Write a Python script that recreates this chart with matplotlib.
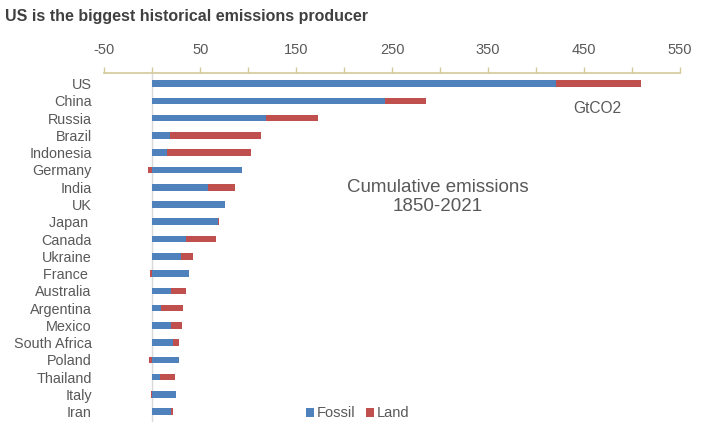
import numpy as np
import matplotlib.pyplot as plt

plt.rcParams['font.family'] = ['Liberation Sans', 'DejaVu Sans']

# Cumulative emissions 1850-2021, GtCO2
countries = ['US', 'China', 'Russia', 'Brazil', 'Indonesia', 'Germany', 'India', 'UK',
             'Japan ', 'Canada', 'Ukraine', 'France ', 'Australia', 'Argentina', 'Mexico',
             'South Africa', 'Poland', 'Thailand', 'Italy', 'Iran']
fossil = [421, 242, 118, 18, 15, 94, 58, 76, 68, 35, 30, 38.5, 19.5, 9.5, 20, 22, 28, 8, 25, 20]
land = [88, 43, 55, 95, 88, -4.5, 28, 0, 1, 31, 12, -2.7, 15.5, 22.5, 11, 6, -3, 16, -1.7, 2]

tick_pos = list(range(-50, 551, 50))
tick_labels = ['-50', '', '50', '', '150', '', '250', '', '350', '', '450', '', '550']

blue = '#4F81BD'
red = '#C0504D'
text_col = '#595959'
axis_col = '#D4CA9A'

fossil = np.array(fossil)
land = np.array(land)
y = np.arange(len(countries))
land_left = np.where(land > 0, fossil, 0)

fig = plt.figure(figsize=(7.27, 4.41), dpi=100)
ax = fig.add_axes([0.1435, 0.0431, 0.7919, 0.7907])

ax.barh(y, fossil, height=0.38, color=blue, label='Fossil', zorder=3)
ax.barh(y, land, left=land_left, height=0.38, color=red, label='Land', zorder=3)
ax.axvline(0, color='#D9D9D9', lw=1, zorder=2)

ax.set_xlim(-50, 550)
ax.set_ylim(len(countries) - 0.4, -0.6)
ax.xaxis.tick_top()
ax.set_xticks(tick_pos)
ax.set_xticklabels(tick_labels)
ax.tick_params(axis='x', colors=axis_col, labelcolor=text_col, labelsize=10.5,
               length=4, width=1, pad=8, direction='out')
ax.set_yticks(y)
ax.set_yticklabels(countries)
ax.tick_params(axis='y', length=0, labelsize=10.4, labelcolor=text_col, pad=9)

for side in ['right', 'bottom', 'left']:
    ax.spines[side].set_visible(False)
ax.spines['top'].set_color(axis_col)
ax.spines['top'].set_linewidth(1.2)

ax.text(0.857, 0.90, 'GtCO2', transform=ax.transAxes, fontsize=11.2, color=text_col,
        ha='center', va='center')
ax.text(0.579, 0.644, 'Cumulative emissions\n1850-2021', transform=ax.transAxes,
        fontsize=13.5, color=text_col, ha='center', va='center', linespacing=1.15)

ax.legend(loc='center', bbox_to_anchor=(0.44, 0.025), ncol=2, frameon=False,
          fontsize=10.5, labelcolor=text_col, handlelength=0.55, handleheight=0.55,
          handletextpad=0.2, columnspacing=0.7, borderpad=0)

fig.text(0.007, 0.962, 'US is the biggest historical emissions producer', fontsize=11.5,
         fontweight='bold', color='#404040', ha='left', va='center')

fig.savefig('out.png', dpi=100)
